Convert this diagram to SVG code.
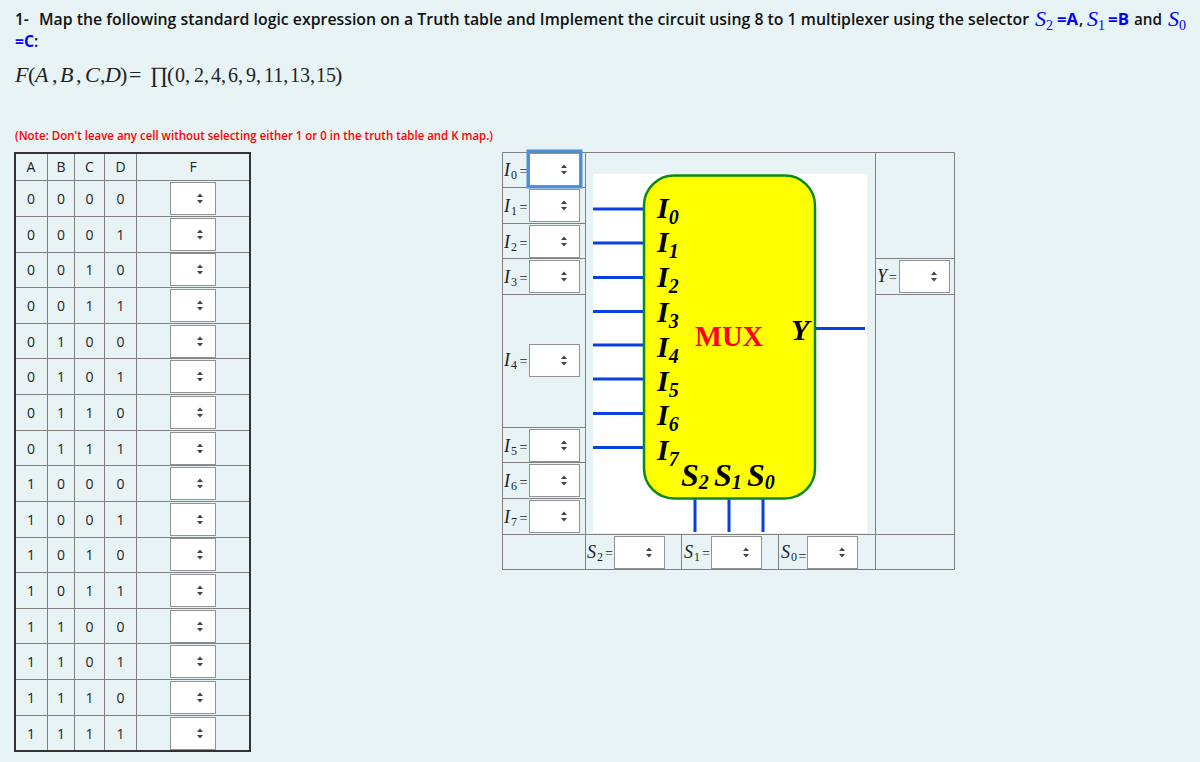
<svg xmlns="http://www.w3.org/2000/svg" width="1200" height="762" viewBox="0 0 1200 762">
<style>
text{font-family:"Open Sans","Noto Sans","Liberation Sans",sans-serif;fill:#111}
.h{font-size:15.500px;font-weight:600}
.hb{font-size:15.500px;font-weight:700;fill:#00f}
.m{font-family:"Liberation Serif","Times New Roman",serif}
.i{font-style:italic}
.d{font-size:20px}
.c{font-size:14px;text-anchor:middle;fill:#222}
.g{stroke:#808080;stroke-width:1;fill:none}
.lab{font-family:"Liberation Serif",serif;font-size:18px;fill:#222}
.sub{font-size:12px}
.eq{font-size:14px}
.box{fill:#fff;stroke:#8f9397;stroke-width:1}
.arr{fill:#444}
.w{stroke:#0a3fe6;stroke-width:3;fill:none}
.big{font-family:"Liberation Serif",serif;font-style:italic;font-weight:700;font-size:30px;fill:#000}
.bs{font-size:20px}
.bigs{font-size:32px}
</style>
<defs>
<g id="sf"><rect class="box" x="0.5" y="0.5" width="45" height="32"/><path class="arr" d="M27 15l3-3.500 3 3.500zM27 18l3 3.500 3-3.500z"/></g>
<g id="si"><rect class="box" x="0.500" y="0.500" width="50" height="32"/><path class="arr" d="M32 15l3-3.500 3 3.500zM32 18l3 3.500 3-3.500z"/></g>
</defs>
<rect width="1200" height="762" fill="#e7f3f5"/>
<g id="question">
<text class="h" x="15" y="25">1-</text>
<text class="h" x="39" y="25" textLength="990" lengthAdjust="spacingAndGlyphs">Map the following standard logic expression on a Truth table and Implement the circuit using 8 to 1 multiplexer using the selector</text>
<text class="m i" x="1035" y="26" font-size="22" style="fill:#00f">S<tspan class="m" font-style="normal" font-size="14" dy="4">2</tspan></text>
<text class="hb" x="1057" y="25" textLength="21" lengthAdjust="spacingAndGlyphs">=A</text><text class="h" x="1079" y="25">,</text>
<text class="m i" x="1087" y="26" font-size="22" style="fill:#00f">S<tspan class="m" font-style="normal" font-size="14" dy="4">1</tspan></text>
<text class="hb" x="1108" y="25" textLength="21" lengthAdjust="spacingAndGlyphs">=B</text>
<text class="h" x="1134" y="25" textLength="28" lengthAdjust="spacingAndGlyphs">and</text>
<text class="m i" x="1168" y="26" font-size="22" style="fill:#00f">S<tspan class="m" font-style="normal" font-size="14" dy="4">0</tspan></text>
<text class="hb" x="15" y="47" textLength="19" lengthAdjust="spacingAndGlyphs">=C</text><text class="h" x="34" y="47">:</text>
<text class="m" y="82" font-size="22" style="fill:#222"><tspan class="i" x="15">F</tspan><tspan x="28">(</tspan><tspan class="i" x="35">A</tspan><tspan x="52">,</tspan><tspan class="i" x="60">B</tspan><tspan x="76">,</tspan><tspan class="i" x="85">C</tspan><tspan x="100">,</tspan><tspan class="i" x="105">D</tspan><tspan x="120">)</tspan><tspan x="129">=</tspan><tspan x="150">∏</tspan><tspan x="167">(</tspan><tspan class="d" x="175">0,</tspan><tspan class="d" x="194">2,</tspan><tspan class="d" x="211">4,</tspan><tspan class="d" x="228">6,</tspan><tspan class="d" x="246">9,</tspan><tspan class="d" x="264">11,</tspan><tspan class="d" x="290">13,</tspan><tspan class="d" x="316">15</tspan><tspan x="335">)</tspan></text>
<text x="15" y="140" font-size="12" font-weight="600" textLength="478" lengthAdjust="spacingAndGlyphs" style="fill:#f00">(Note: Don't leave any cell without selecting either 1 or 0 in the truth table and K map.)</text>
</g>
<g id="truth-table">
<path class="g" d="M47.5 153V750M74.5 153V750M104.5 153V750M136.5 153V750M15 180.5H250M15 216.5H250M15 252.5H250M15 287.5H250M15 323.5H250M15 358.5H250M15 394.5H250M15 430.5H250M15 465.5H250M15 501.5H250M15 537.5H250M15 572.5H250M15 608.5H250M15 643.5H250M15 679.5H250M15 715.5H250"/>
<rect x="15" y="153" width="235" height="598" fill="none" stroke="#333" stroke-width="2"/>
<text class="c" x="31" y="172">A</text><text class="c" x="61" y="172">B</text><text class="c" x="89.5" y="172">C</text><text class="c" x="120.5" y="172">D</text><text class="c" x="193" y="172" font-size="12">F</text>
<g>
<text class="c" y="204"><tspan x="31">0</tspan><tspan x="61">0</tspan><tspan x="89.5">0</tspan><tspan x="120.5">0</tspan></text>
<text class="c" y="240"><tspan x="31">0</tspan><tspan x="61">0</tspan><tspan x="89.5">0</tspan><tspan x="120.5">1</tspan></text>
<text class="c" y="275"><tspan x="31">0</tspan><tspan x="61">0</tspan><tspan x="89.5">1</tspan><tspan x="120.5">0</tspan></text>
<text class="c" y="311"><tspan x="31">0</tspan><tspan x="61">0</tspan><tspan x="89.5">1</tspan><tspan x="120.5">1</tspan></text>
<text class="c" y="347"><tspan x="31">0</tspan><tspan x="61">1</tspan><tspan x="89.5">0</tspan><tspan x="120.5">0</tspan></text>
<text class="c" y="382"><tspan x="31">0</tspan><tspan x="61">1</tspan><tspan x="89.5">0</tspan><tspan x="120.5">1</tspan></text>
<text class="c" y="418"><tspan x="31">0</tspan><tspan x="61">1</tspan><tspan x="89.5">1</tspan><tspan x="120.5">0</tspan></text>
<text class="c" y="454"><tspan x="31">0</tspan><tspan x="61">1</tspan><tspan x="89.5">1</tspan><tspan x="120.5">1</tspan></text>
<text class="c" y="489"><tspan x="31">1</tspan><tspan x="61">0</tspan><tspan x="89.5">0</tspan><tspan x="120.5">0</tspan></text>
<text class="c" y="525"><tspan x="31">1</tspan><tspan x="61">0</tspan><tspan x="89.5">0</tspan><tspan x="120.5">1</tspan></text>
<text class="c" y="560"><tspan x="31">1</tspan><tspan x="61">0</tspan><tspan x="89.5">1</tspan><tspan x="120.5">0</tspan></text>
<text class="c" y="596"><tspan x="31">1</tspan><tspan x="61">0</tspan><tspan x="89.5">1</tspan><tspan x="120.5">1</tspan></text>
<text class="c" y="632"><tspan x="31">1</tspan><tspan x="61">1</tspan><tspan x="89.5">0</tspan><tspan x="120.5">0</tspan></text>
<text class="c" y="667"><tspan x="31">1</tspan><tspan x="61">1</tspan><tspan x="89.5">0</tspan><tspan x="120.5">1</tspan></text>
<text class="c" y="703"><tspan x="31">1</tspan><tspan x="61">1</tspan><tspan x="89.5">1</tspan><tspan x="120.5">0</tspan></text>
<text class="c" y="739"><tspan x="31">1</tspan><tspan x="61">1</tspan><tspan x="89.5">1</tspan><tspan x="120.5">1</tspan></text>
</g>
<use href="#sf" x="170" y="182"/><use href="#sf" x="170" y="218"/><use href="#sf" x="170" y="253"/><use href="#sf" x="170" y="289"/>
<use href="#sf" x="170" y="325"/><use href="#sf" x="170" y="360"/><use href="#sf" x="170" y="396"/><use href="#sf" x="170" y="432"/>
<use href="#sf" x="170" y="467"/><use href="#sf" x="170" y="503"/><use href="#sf" x="170" y="538"/><use href="#sf" x="170" y="574"/>
<use href="#sf" x="170" y="610"/><use href="#sf" x="170" y="645"/><use href="#sf" x="170" y="681"/><use href="#sf" x="170" y="717"/>
</g>
<g id="mux-table">
<path class="g" d="M502.5 152.5H954.5V569.5H502.5ZM585.5 152.5V569.5M875.5 152.5V569.5M502.5 187.5H585.5M502.5 223.5H585.5M502.5 258.5H585.5M502.5 294.5H585.5M502.5 427.5H585.5M502.5 462.5H585.5M502.5 498.5H585.5M502.5 534.5H954.5M681.5 534.5V569.5M778.5 534.5V569.5M875.5 258.5H954.5M875.5 294.5H954.5"/>
<g>
<text class="lab" y="176"><tspan class="i" x="504">I</tspan><tspan class="sub" x="511" dy="3">0</tspan><tspan class="eq" x="519.500" dy="-3">=</tspan></text>
<text class="lab" y="212"><tspan class="i" x="504">I</tspan><tspan class="sub" x="511" dy="3">1</tspan><tspan class="eq" x="519.500" dy="-3">=</tspan></text>
<text class="lab" y="248"><tspan class="i" x="504">I</tspan><tspan class="sub" x="511" dy="3">2</tspan><tspan class="eq" x="519.500" dy="-3">=</tspan></text>
<text class="lab" y="283"><tspan class="i" x="504">I</tspan><tspan class="sub" x="511" dy="3">3</tspan><tspan class="eq" x="519.500" dy="-3">=</tspan></text>
<text class="lab" y="366"><tspan class="i" x="504">I</tspan><tspan class="sub" x="511" dy="3">4</tspan><tspan class="eq" x="519.500" dy="-3">=</tspan></text>
<text class="lab" y="452"><tspan class="i" x="504">I</tspan><tspan class="sub" x="511" dy="3">5</tspan><tspan class="eq" x="519.500" dy="-3">=</tspan></text>
<text class="lab" y="487"><tspan class="i" x="504">I</tspan><tspan class="sub" x="511" dy="3">6</tspan><tspan class="eq" x="519.500" dy="-3">=</tspan></text>
<text class="lab" y="523"><tspan class="i" x="504">I</tspan><tspan class="sub" x="511" dy="3">7</tspan><tspan class="eq" x="519.500" dy="-3">=</tspan></text>
<text class="lab" y="558"><tspan class="i" x="587">S</tspan><tspan class="sub" x="597" dy="3">2</tspan><tspan class="eq" x="605" dy="-3">=</tspan></text>
<text class="lab" y="558"><tspan class="i" x="684">S</tspan><tspan class="sub" x="694" dy="3">1</tspan><tspan class="eq" x="702" dy="-3">=</tspan></text>
<text class="lab" y="558"><tspan class="i" x="781">S</tspan><tspan class="sub" x="791" dy="3">0</tspan><tspan class="eq" x="798.500">=</tspan></text>
<text class="lab" y="282"><tspan class="i" x="877">Y</tspan><tspan class="eq" x="889">=</tspan></text>
</g>
<use href="#si" x="529" y="153"/>
<rect x="528" y="151" width="53" height="36" fill="none" stroke="#4a90d9" stroke-width="3"/>
<use href="#si" x="529" y="189"/><use href="#si" x="529" y="225"/><use href="#si" x="529" y="260"/><use href="#si" x="529" y="344"/><use href="#si" x="529" y="429"/><use href="#si" x="529" y="464"/><use href="#si" x="529" y="500"/>
<use href="#si" x="614" y="536"/><use href="#si" x="711" y="536"/><use href="#si" x="807" y="536"/><use href="#si" x="899" y="260"/>
</g>
<g id="mux-picture">
<rect x="593" y="174" width="274" height="359" fill="#fff"/>
</g>
<g id="connectors">
<path class="w" d="M593 209H644M593 243H644M593 277.5H644M593 311.5H644M593 345H644M593 379H644M593 413.5H644M593 447.5H644M814 328.5H865M695 499V532M729 499V532M763 499V532"/>
</g>
<g id="mux">
<rect x="644" y="175.500" width="171" height="323" rx="30" ry="30" fill="#ff0" stroke="#0a8a12" stroke-width="2.500"/>
<text class="big" x="657" y="218">I<tspan class="bs" dy="6">0</tspan></text>
<text class="big" x="657" y="252">I<tspan class="bs" dy="6">1</tspan></text>
<text class="big" x="657" y="287">I<tspan class="bs" dy="6">2</tspan></text>
<text class="big" x="657" y="322">I<tspan class="bs" dy="6">3</tspan></text>
<text class="big" x="657" y="357">I<tspan class="bs" dy="6">4</tspan></text>
<text class="big" x="657" y="391">I<tspan class="bs" dy="6">5</tspan></text>
<text class="big" x="657" y="425">I<tspan class="bs" dy="6">6</tspan></text>
<text class="big" x="657" y="460">I<tspan class="bs" dy="6">7</tspan></text>
<text x="695" y="346" style="font-family:'Liberation Serif',serif;font-weight:700;font-size:28.500px;fill:#ff0022">MUX</text>
<text class="big" x="791" y="340">Y</text>
<text class="big bigs" x="681" y="486">S<tspan class="bs" dy="3">2</tspan></text>
<text class="big bigs" x="714" y="486">S<tspan class="bs" dy="3">1</tspan></text>
<text class="big bigs" x="747" y="486">S<tspan class="bs" dy="3">0</tspan></text>
</g>
</svg>
